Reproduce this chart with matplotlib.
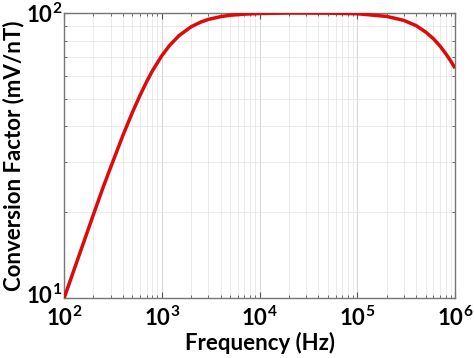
import matplotlib
matplotlib.use("Agg")
import matplotlib.pyplot as plt
import matplotlib.transforms as mtrans
from matplotlib.ticker import LogLocator, NullFormatter

plt.rcParams['font.family'] = ['Lato', 'DejaVu Sans']
plt.rcParams['mathtext.fontset'] = 'custom'
plt.rcParams['mathtext.rm'] = 'Lato:bold'
plt.rcParams['mathtext.it'] = 'Lato:bold'
plt.rcParams['mathtext.bf'] = 'Lato:bold'

# values
freq = [100, 150, 200, 250, 300, 400, 500, 600, 700, 800, 1000, 1200, 1500,
        2000, 2500, 3000, 4000, 5000, 7000, 1e4, 2e4, 5e4, 1e5, 2e5, 3e5,
        4e5, 5e5, 6e5, 7e5, 8e5, 9e5, 1e6]
conv = [9.95, 14.8, 19.6, 24.3, 28.7, 37.1, 44.7, 51.4, 57.3, 62.5, 70.7,
        76.8, 83.2, 89.4, 92.8, 94.9, 97.0, 98.1, 99.0, 99.5, 99.9, 99.8,
        99.3, 97.2, 94.1, 90.2, 85.7, 81.2, 76.6, 72.1, 67.9, 64.0]

xticks = [1e2, 1e3, 1e4, 1e5, 1e6]
xlabels = ['$10^{2}$', '$10^{3}$', '$10^{4}$', '$10^{5}$', '$10^{6}$']
yticks = [1e1, 1e2]
ylabels = ['$10^{1}$', '$10^{2}$']

fig = plt.figure(figsize=(4.74, 3.58), dpi=100)
ax = fig.add_axes([0.135, 0.168, 0.825, 0.796])
ax.plot(freq, conv, color='#dd0a0a', lw=2.5, solid_capstyle='butt', zorder=3)
ax.set_xscale('log')
ax.set_yscale('log')
ax.set_xlim(1e2, 1e6)
ax.set_ylim(1e1, 1e2)

ax.set_xticks(xticks)
ax.set_xticklabels(xlabels, fontsize=16, fontweight='bold')
ax.set_yticks(yticks)
ax.set_yticklabels(ylabels, fontsize=16, fontweight='bold')
ax.xaxis.set_minor_locator(LogLocator(base=10, subs=range(2, 10)))
ax.yaxis.set_minor_locator(LogLocator(base=10, subs=range(2, 10)))
ax.xaxis.set_minor_formatter(NullFormatter())
ax.yaxis.set_minor_formatter(NullFormatter())

ax.grid(True, which='major', color='#d8d8d8', lw=0.8)
ax.grid(True, which='minor', color='#e6e6e6', lw=0.6)
ax.tick_params(which='both', direction='in', top=True, right=True,
               color='#555555')
ax.tick_params(axis='x', pad=6)
ax.tick_params(axis='y', pad=1)
ax.tick_params(which='major', length=4)
ax.tick_params(which='minor', length=2.5)
for s in ax.spines.values():
    s.set_color('#777777')
    s.set_linewidth(1.0)

# nudge the bottom y label up so it clears the first x label
lab = ax.get_yticklabels()[0]
lab.set_transform(lab.get_transform() +
                  mtrans.ScaledTranslation(0, 3 / 72, fig.dpi_scale_trans))

ax.set_xlabel('Frequency (Hz)', fontsize=16, fontweight='bold', labelpad=1)
ax.set_ylabel('Conversion Factor (mV/nT)', fontsize=16, fontweight='bold',
              labelpad=1)

fig.savefig('out.png', dpi=100)
